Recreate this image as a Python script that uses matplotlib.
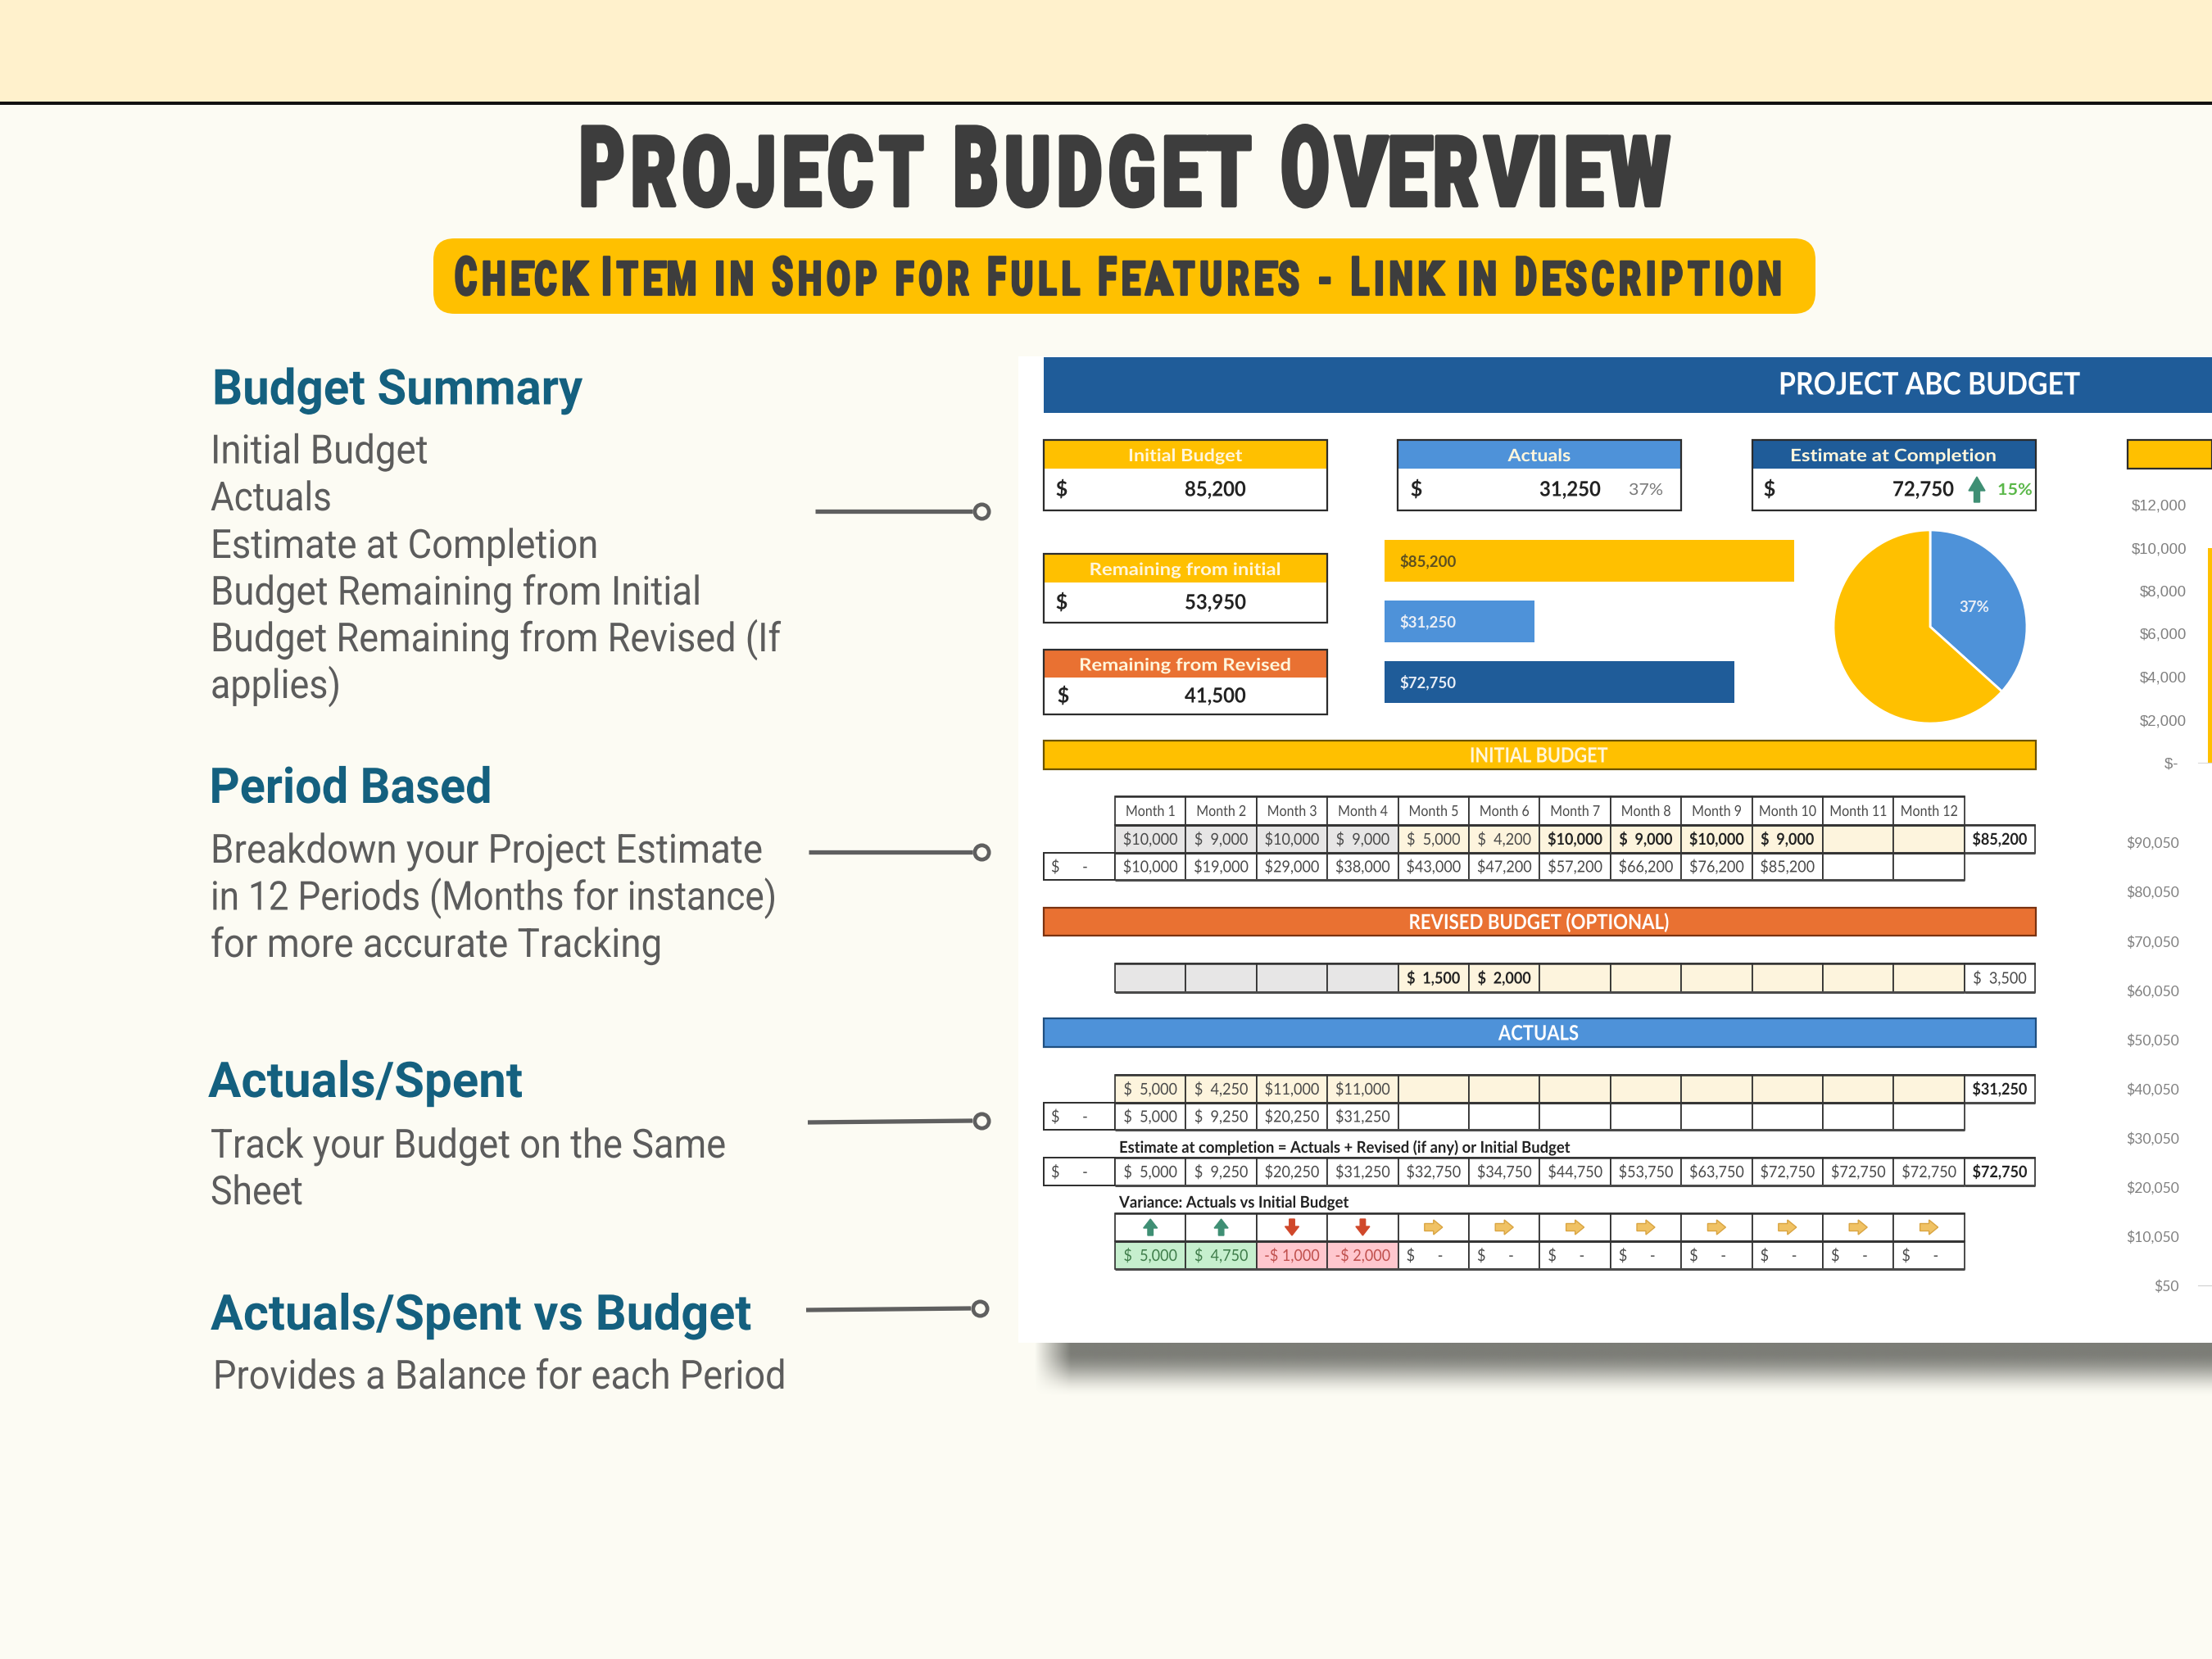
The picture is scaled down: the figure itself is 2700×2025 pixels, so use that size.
import numpy as np
import matplotlib
matplotlib.use("Agg")
import matplotlib.pyplot as plt
from matplotlib.patches import Rectangle, FancyBboxPatch, FancyArrow
from matplotlib.patheffects import AbstractPathEffect
from matplotlib.path import Path
from matplotlib.transforms import Affine2D
from matplotlib.font_manager import FontProperties
from matplotlib.textpath import text_to_path
from matplotlib.ticker import FuncFormatter, FixedLocator
from matplotlib.colors import to_rgb

# ---------- data ----------
TITLE = "Project Budget Overview"
SUBTITLE = "Check Item in Shop for Full Features - Link in Description"
SHEET_TITLE = "PROJECT ABC BUDGET"
months = [f"Month {i}" for i in range(1, 13)]
initial_budget = [10000, 9000, 10000, 9000, 5000, 4200, 10000, 9000, 10000, 9000, None, None]
initial_total = 85200
initial_cum = [10000, 19000, 29000, 38000, 43000, 47200, 57200, 66200, 76200, 85200, None, None]
revised_budget = [None, None, None, None, 1500, 2000, None, None, None, None, None, None]
revised_total = 3500
actuals = [5000, 4250, 11000, 11000, None, None, None, None, None, None, None, None]
actuals_total = 31250
actuals_cum = [5000, 9250, 20250, 31250, None, None, None, None, None, None, None, None]
estimate = [5000, 9250, 20250, 31250, 32750, 34750, 44750, 53750, 63750, 72750, 72750, 72750]
estimate_total = 72750
variance = [5000, 4750, -1000, -2000, 0, 0, 0, 0, 0, 0, 0, 0]
summary_names = ["Initial", "Actuals", "Estimate"]
summary_values = [85200, 31250, 72750]
pie_values = [31250, 53950]
ticks_monthly = [0, 2000, 4000, 6000, 8000, 10000, 12000]
ticks_cum = [50, 10050, 20050, 30050, 40050, 50050, 60050, 70050, 80050, 90050]

# ---------- palette ----------
BG = "#fcfbf3"; BAND = "#fff1cc"; INK = "#3d3d3d"; GOLD = "#ffc000"
TEAL = "#14607f"; BODY = "#5c5c5c"; NAVY = "#1f5c99"; SKY = "#4e92d9"
ORANGE = "#e97132"; GREYC = "#e7e6e6"; CREAM = "#fdf4dd"; LINE = "#2c2c2c"
CELLTXT = "#4a4a4a"; AXTXT = "#808080"

W, H = 2700, 2025
fig = plt.figure(figsize=(27, 20.25), dpi=100, facecolor=BG)
ax = fig.add_axes([0, 0, 1, 1])
ax.set_axis_off()
rend = fig.canvas.get_renderer()


class Squeeze(AbstractPathEffect):
    """Narrows real text horizontally; optional stroke, tracking and small-cap heights."""

    def __init__(self, sx=1.0, stroke=0.0, big=None, ratio=1.0, xs=None, track=0.0):
        super().__init__()
        self.sx, self.stroke, self.big, self.ratio = sx, stroke, big, ratio
        self.xs, self.track = xs, track

    def draw_path(self, renderer, gc, tpath, affine, rgbFace=None):
        path = tpath
        if self.big or self.track:
            v = np.array(tpath.vertices, dtype=float)
            if self.big:
                keep = np.zeros(len(v), dtype=bool)
                for a, b in self.big:
                    keep |= (v[:, 0] >= a - 1.5) & (v[:, 0] < b - 1.5)
                v[~keep, 1] *= self.ratio
            if self.track and self.xs is not None:
                idx = np.searchsorted(self.xs, v[:, 0] + 1.5) - 1
                v[:, 0] += np.clip(idx, 0, None) * self.track
            path = Path(v, tpath.codes)
        aff = Affine2D().scale(self.sx, 1.0) + affine
        gc0 = renderer.new_gc()
        gc0.copy_properties(gc)
        if self.stroke:
            gc0.set_linewidth(self.stroke)
            gc0.set_foreground(rgbFace)
        renderer.draw_path(gc0, path, aff, rgbFace)
        gc0.restore()


def px_axes(x0, y0, x1, y1, **kw):
    return fig.add_axes([x0 / W, 1 - y1 / H, (x1 - x0) / W, (y1 - y0) / H], **kw)


def glyph_positions(s, family, weight):
    prop = FontProperties(family=family, weight=weight)
    font = text_to_path._get_font(prop)
    glyphs = text_to_path.get_glyphs_with_font(font, s)[0]
    return [g[1] for g in glyphs]


def C(x, base, s, cap, width=None, sx=None, color=CELLTXT, family="Lato", weight="normal",
      ha="left", stroke=0.0, big=None, ratio=1.0, xs=None, track=0.0, z=8):
    """Real text placed by baseline with a given cap height and horizontal squeeze."""
    size = cap * 1.007
    t = ax.text(x, base, s, fontsize=size, color=color, family=family, weight=weight,
                ha="left", va="baseline", zorder=z)
    natural = t.get_window_extent(rend).width
    natural += (len(s) - 1) * track * size / 100 * 100 / 72
    if width is not None:
        sx = width / natural
    if sx is None:
        sx = 1.0
    final = natural * sx
    left = x - (final / 2 if ha == "center" else final if ha == "right" else 0)
    t.set_x(left)
    t.set_path_effects([Squeeze(sx, stroke, big, ratio, xs, track)])
    return t


def Cc(x, yc, s, cap, **kw):
    return C(x, yc + cap / 2, s, cap, **kw)


def small_caps(mixed, **font):
    upper = mixed.upper()
    xs = glyph_positions(upper, **font)
    ends = xs + [1e9]
    big = [(ends[i], ends[i + 1]) for i, ch in enumerate(mixed) if ch.isupper()]
    return upper, xs, big


def R(x0, y0, x1, y1, fc, ec="none", lw=0, z=3):
    ax.add_patch(Rectangle((x0, y0), x1 - x0, y1 - y0, facecolor=fc, edgecolor=ec, linewidth=lw, zorder=z))


# ---------- page background ----------
R(0, 0, W, 124, BAND, z=1)
R(0, 124, W, 128, "#111111", z=1)
HEAD_FONT = dict(family="Roboto", weight="black")
up, xs_, big_ = small_caps(TITLE, **HEAD_FONT)
C(1372.5, 251, up, 97, width=1331, color=INK, ha="center", stroke=3.2, big=big_, ratio=0.875,
  xs=xs_, track=9, **HEAD_FONT)
ax.add_patch(FancyBboxPatch((552, 314), 1641, 46, boxstyle="round,pad=23,rounding_size=26",
                            facecolor=GOLD, edgecolor="none", zorder=3))
up, xs_, big_ = small_caps(SUBTITLE, **HEAD_FONT)
C(1365.5, 360, up, 47, width=1621, color=INK, ha="center", stroke=1.6, big=big_, ratio=0.88,
  xs=xs_, track=14, **HEAD_FONT)

# ---------- left column ----------
heads = [("Budget Summary", 259, 493.5, 452), ("Period Based", 255.5, 980, 345),
         ("Actuals/Spent", 254, 1339, 384), ("Actuals/Spent vs Budget", 257, 1623, 660)]
for s, x, y, w in heads:
    C(x, y, s, 43, width=w, color=TEAL, family="Roboto", weight="bold")

body = [("Initial Budget", 257, 565.5, 266), ("Actuals", 257, 623, 148),
        ("Estimate at Completion", 257, 681, 474), ("Budget Remaining from Initial", 257, 738, 600),
        ("Budget Remaining from Revised (If", 257, 795, 697), ("applies)", 257, 852, 159),
        ("Breakdown your Project Estimate", 257, 1053, 675), ("in 12 Periods (Months for instance)", 257, 1110.5, 692),
        ("for more accurate Tracking", 257, 1168, 552), ("Track your Budget on the Same", 257, 1413, 630),
        ("Sheet", 257, 1470, 113), ("Provides a Balance for each Period", 260, 1695, 700)]
for s, x, y, w in body:
    C(x, y, s, 35, width=w, color=BODY, family="Roboto")

connectors = [(995, 624, 1187, 624, 1198), (987, 1040, 1187, 1040, 1198),
              (986, 1370, 1187, 1368, 1198), (984, 1599, 1185, 1597, 1196)]
for x0, y0, x1, y1, cx in connectors:
    ax.plot([x0, x1], [y0, y1], color="#5f5f5f", lw=3.8, solid_capstyle="butt", zorder=2)
    ax.plot([cx], [y1], marker="o", ms=12.5, mfc=BG, mec="#5f5f5f", mew=3.4, zorder=3)

# ---------- sheet card and shadow ----------
gy = np.linspace(1630, 1708, 90)
u = np.clip((1706 - gy) / 56, 0, 1)
fade = u * u * (3 - 2 * u)
fx = np.clip((np.linspace(1262, W, 720) - 1262) / 44, 0, 1)
rgba = np.zeros((90, 720, 4))
rgba[..., :3] = to_rgb("#7c7d77")
rgba[..., 3] = np.outer(fade, fx)
ax.imshow(rgba, extent=(1262, W, 1708, 1630), aspect="auto", zorder=1, interpolation="bilinear")
R(1243, 435, W, 1639, "#ffffff", z=2)

R(1274, 436, W, 504, NAVY)
Cc(2355, 468, SHEET_TITLE, 27, width=368, color="#ffffff", weight="bold", ha="center")

boxes = [(1274, 537, 572, 623, GOLD, "Initial Budget", 140, "85,200", 1521, 1296),
         (1706, 537, 572, 623, SKY, "Actuals", 77, "31,250", 1954, 1729),
         (2138.5, 537, 572, 623, NAVY, "Estimate at Completion", 253, "72,750", 2385, 2160),
         (1274, 676, 711, 760, GOLD, "Remaining from initial", 235, "53,950", 1521, 1296),
         (1274, 793, 827, 872, ORANGE, "Remaining from Revised", 260, "41,500", 1521, 1298)]
for x0, y0, ym, y1, col, lab, lw_, val, xr, xd in boxes:
    x1 = x0 + 346
    R(x0, ym, x1, y1, "#ffffff", z=3)
    R(x0, y0, x1, ym, col, z=3)
    ax.add_patch(Rectangle((x0, y0), 346, y1 - y0, fill=False, edgecolor=LINE, lw=1.6, zorder=5))
    Cc(x0 + 173, (y0 + ym) / 2 + 1, lab, 15, width=lw_, color="#fff6dc", weight="bold", ha="center")
    Cc(xr, (ym + y1) / 2 - 1, val, 18, width=75, color="#222222", weight="bold", ha="right")
    Cc(xd, (ym + y1) / 2 - 1, "$", 18, color="#222222", weight="bold", ha="center")
R(2597, 537, W, 572, GOLD, ec=LINE, lw=1.6, z=3)
Cc(1988, 597, "37%", 14, width=42, color="#7a7a7a")
Cc(2438, 597, "15%", 14, width=43, color="#5bb84a", weight="bold")
ax.add_patch(FancyArrow(2413, 613, 0, -31, width=7, head_width=20, head_length=17,
                        length_includes_head=True, color="#3f8f74", zorder=6))

# summary bars
bax = px_axes(1690, 647.5, 2190, 869.5)
bax.set_xlim(0, summary_values[0]); bax.set_ylim(2.5, -0.5); bax.axis("off")
bar_cols = [GOLD, SKY, NAVY]
bax.barh(range(3), summary_values, height=0.68, color=bar_cols)
for i, v in enumerate(summary_values):
    bax.annotate(f"${v:,}", (0, i), xytext=(13, 0), textcoords="offset points", va="center",
                 fontsize=13.4, family="Lato", weight="bold", color="#5e5020" if i == 0 else "#e9eef6")

# pie
pax = px_axes(2238, 647, 2474, 883)
pax.pie(pie_values, colors=[SKY, GOLD], startangle=90, counterclock=False, radius=1,
        wedgeprops=dict(edgecolor="#ffffff", linewidth=2),
        autopct=lambda p: "37%" if p < 50 else "", pctdistance=0.5,
        textprops=dict(fontsize=13.4, family="Lato", weight="bold", color="#e9eef6"))
pax.set_xlim(-1, 1); pax.set_ylim(-1, 1)

# section bands
bands = [(904, 939, GOLD, "INITIAL BUDGET", 168, "#6b5200"),
         (1108, 1142, ORANGE, "REVISED BUDGET (OPTIONAL)", 317, "#7a3210"),
         (1243, 1278, SKY, "ACTUALS", 98, "#1f4f80")]
for y0, y1, col, lab, w_, edge in bands:
    R(1274, y0, 2485, y1, col, ec=edge, lw=1.6, z=3)
    Cc(1878, (y0 + y1) / 2, lab, 18, width=w_, color="#fff6dc" if col == GOLD else "#ffffff", weight="bold", ha="center")

# ---------- monthly tables ----------
edges = [1361 + 86.4 * i for i in range(14)]
CAP = 14
SX = 0.92
DASH = "$" + " " * 6 + "-"


def money(v):
    if v < 0:
        return f"-$ {abs(v):,}"
    return f"${v:,}" if v >= 10000 else f"$  {v:,}"


def row(y0, y1, fills, first=1, last=12):
    for i in range(first - 1, last):
        ax.add_patch(Rectangle((edges[i], y0), edges[i + 1] - edges[i], y1 - y0, facecolor=fills[i],
                               edgecolor=LINE, lw=1.2, zorder=4))
    ax.plot([edges[first - 1], edges[last]], [y1, y1], color="#4a4a4a", lw=2.2, zorder=5, solid_capstyle="butt")
    ax.plot([edges[first - 1], edges[last]], [y0, y0], color="#333333", lw=1.8, zorder=5, solid_capstyle="butt")


def values(y0, y1, vals, bold=(), colors=None):
    for i, v in enumerate(vals):
        if v is None:
            continue
        cx = (edges[i] + edges[i + 1]) / 2
        Cc(cx, (y0 + y1) / 2, money(v), CAP, sx=SX, ha="center", weight="bold" if i in bold else "normal",
           color="#222222" if i in bold else (colors[i] if colors else CELLTXT))


def total(y0, y1, v, bold=True):
    ax.add_patch(Rectangle((edges[12], y0), edges[13] - edges[12], y1 - y0, facecolor="#ffffff",
                           edgecolor=LINE, lw=1.2, zorder=4))
    ax.plot([edges[12], edges[13]], [y1, y1], color="#4a4a4a", lw=2.2, zorder=5, solid_capstyle="butt")
    ax.plot([edges[12], edges[13]], [y0, y0], color="#333333", lw=1.8, zorder=5, solid_capstyle="butt")
    Cc((edges[12] + edges[13]) / 2, (y0 + y1) / 2, money(v), CAP, sx=SX, ha="center",
       weight="bold" if bold else "normal", color="#222222" if bold else CELLTXT)


def lead(y0, y1):
    ax.add_patch(Rectangle((1274, y0), edges[0] - 1274, y1 - y0, facecolor="#ffffff", edgecolor=LINE, lw=1.4, zorder=4))
    Cc(1283, (y0 + y1) / 2, DASH, CAP, sx=SX)


WHITE12 = ["#ffffff"] * 12
GC4 = [GREYC] * 4

# initial
row(972, 1007, WHITE12)
for i, m in enumerate(months):
    Cc((edges[i] + edges[i + 1]) / 2, 989.5, m, 13, sx=0.88, ha="center")
row(1007, 1041, GC4 + [CREAM] * 8)
values(1007, 1041, initial_budget, bold=(6, 7, 8, 9))
total(1007, 1041, initial_total)
lead(1041, 1074)
row(1041, 1074, WHITE12)
values(1041, 1074, initial_cum)

# revised
row(1176, 1211, GC4 + [CREAM] * 8)
values(1176, 1211, revised_budget, bold=(4, 5))
total(1176, 1211, revised_total, bold=False)

# actuals
row(1312, 1346, [CREAM] * 12)
values(1312, 1346, actuals)
total(1312, 1346, actuals_total)
lead(1346, 1379)
row(1346, 1379, WHITE12)
values(1346, 1379, actuals_cum)

# estimate
Cc(1366, 1400, "Estimate at completion = Actuals + Revised (if any) or Initial Budget", 14, width=554,
   color="#222222", weight="bold")
lead(1413, 1447)
row(1413, 1447, WHITE12)
values(1413, 1447, estimate)
total(1413, 1447, estimate_total)

# variance
Cc(1366, 1467, "Variance: Actuals vs Initial Budget", 14, width=282, color="#222222", weight="bold")
row(1481, 1515, WHITE12)
var_fill = ["#c6efce" if v > 0 else "#ffc7ce" if v < 0 else "#ffffff" for v in variance]
row(1515, 1549, var_fill)
for i, v in enumerate(variance):
    cx = (edges[i] + edges[i + 1]) / 2
    if v > 0:
        ax.add_patch(FancyArrow(cx, 1508, 0, -20, width=6.5, head_width=17, head_length=11,
                                length_includes_head=True, color="#3f8f74", zorder=6))
        Cc(cx, 1532, money(v), CAP, sx=SX, ha="center", color="#3f7d4a")
    elif v < 0:
        ax.add_patch(FancyArrow(cx, 1488, 0, 20, width=6.5, head_width=17, head_length=11,
                                length_includes_head=True, color="#d0482b", zorder=6))
        Cc(cx, 1532, money(v), CAP, sx=SX, ha="center", color="#c0504d")
    else:
        ax.add_patch(FancyArrow(cx - 11, 1498, 22, 0, width=9, head_width=18, head_length=11,
                                length_includes_head=True, facecolor="#f0c264", edgecolor="#d9a441", lw=1, zorder=6))
        Cc(edges[i] + 10, 1532, DASH, CAP, sx=SX)

# ---------- clipped charts on the right ----------
cax1 = px_axes(2683, 616, 2700, 931)
vals1 = [np.nan if v is None else v for v in initial_budget]
cax1.bar(range(12), vals1, width=0.6, color=GOLD)
cax1.set_xlim(-0.5, -0.217)
cax1.set_ylim(0, 12000)
cax1.set_facecolor("none")
cax1.yaxis.set_major_locator(FixedLocator(ticks_monthly))
cax1.yaxis.set_major_formatter(FuncFormatter(lambda v, _: "$-  " if v == 0 else f"${v:,.0f}"))
cax1.tick_params(axis="y", length=0, pad=10, labelsize=13.4, labelcolor=AXTXT)
for lab in cax1.get_yticklabels():
    lab.set_family("Liberation Sans")
cax1.set_xticks([])
for s in cax1.spines.values():
    s.set_visible(False)
cax1.spines["bottom"].set_visible(True)
cax1.spines["bottom"].set_color("#d9d9d9")

cax2 = px_axes(2683, 1028, 2700, 1569)
cum_i = [np.nan if v is None else v for v in initial_cum]
cax2.plot(range(12), cum_i, color=GOLD, lw=2)
cax2.plot(range(12), estimate, color=NAVY, lw=2)
cax2.set_xlim(-0.5, -0.217)
cax2.set_ylim(50, 90050)
cax2.set_facecolor("none")
cax2.yaxis.set_major_locator(FixedLocator(ticks_cum))
cax2.yaxis.set_major_formatter(FuncFormatter(lambda v, _: f"${v:,.0f}"))
cax2.tick_params(axis="y", length=0, pad=16.5, labelsize=12.6, labelcolor=AXTXT)
for lab in cax2.get_yticklabels():
    lab.set_family("Lato")
cax2.set_xticks([])
for s in cax2.spines.values():
    s.set_visible(False)
cax2.spines["bottom"].set_visible(True)
cax2.spines["bottom"].set_color("#cfcfcf")

ax.set_xlim(0, W)
ax.set_ylim(H, 0)
fig.savefig("out.png", dpi=100, facecolor=BG)
